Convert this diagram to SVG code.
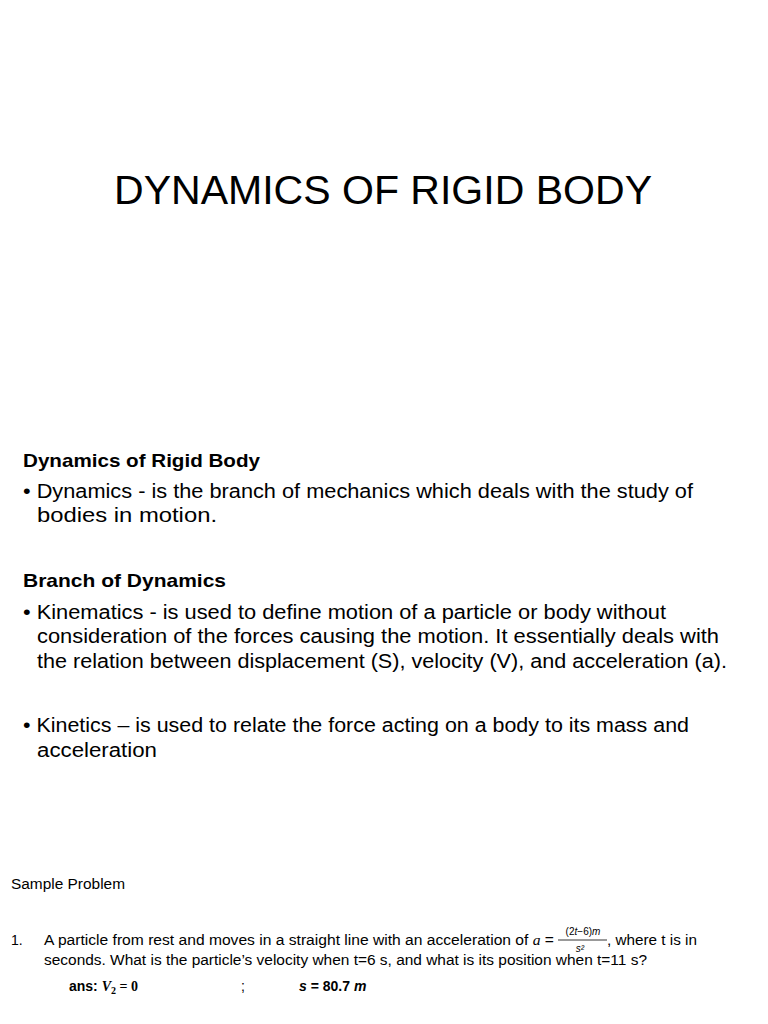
<svg xmlns="http://www.w3.org/2000/svg" width="768" height="1024" viewBox="0 0 768 1024">
<style>
text{font-family:"Liberation Sans",Arial,sans-serif;fill:#000}
.b{font-size:20px}
.h{font-size:19px;font-weight:bold}
.s{font-size:14px}
.m{font-family:"Liberation Serif",serif;font-style:italic}
</style>
<rect width="768" height="1024" fill="#fff"/>
<text x="383" y="204" font-size="41" text-anchor="middle" textLength="538" lengthAdjust="spacingAndGlyphs">DYNAMICS OF RIGID BODY</text>
<text class="h" x="23" y="467" textLength="237" lengthAdjust="spacingAndGlyphs">Dynamics of Rigid Body</text>
<text class="b" x="23" y="498" textLength="670" lengthAdjust="spacingAndGlyphs">• Dynamics - is the branch of mechanics which deals with the study of</text>
<text class="b" x="37" y="522" textLength="180" lengthAdjust="spacingAndGlyphs">bodies in motion.</text>
<text class="h" x="23" y="587" textLength="203" lengthAdjust="spacingAndGlyphs">Branch of Dynamics</text>
<text class="b" x="23" y="619" textLength="643" lengthAdjust="spacingAndGlyphs">• Kinematics - is used to define motion of a particle or body without</text>
<text class="b" x="37" y="643" textLength="682" lengthAdjust="spacingAndGlyphs">consideration of the forces causing the motion. It essentially deals with</text>
<text class="b" x="37" y="668" textLength="690" lengthAdjust="spacingAndGlyphs">the relation between displacement (S), velocity (V), and acceleration (a).</text>
<text class="b" x="23" y="732" textLength="666" lengthAdjust="spacingAndGlyphs">• Kinetics – is used to relate the force acting on a body to its mass and</text>
<text class="b" x="37" y="757" textLength="120" lengthAdjust="spacingAndGlyphs">acceleration</text>
<text class="s" x="11" y="889" textLength="114" lengthAdjust="spacingAndGlyphs">Sample Problem</text>
<text class="s" x="11" y="945">1.</text>
<text class="s" x="44" y="945" textLength="510" lengthAdjust="spacingAndGlyphs">A particle from rest and moves in a straight line with an acceleration of <tspan class="m">a</tspan> =</text>
<text x="583" y="935" font-size="10" text-anchor="middle" font-family="Liberation Serif,serif">(2<tspan font-style="italic">t</tspan>−6)<tspan font-style="italic">m</tspan></text>
<line x1="558" y1="940" x2="607" y2="940" stroke="#000" stroke-width="0.8"/>
<text x="580" y="952" font-size="10" text-anchor="middle" font-family="Liberation Serif,serif" font-style="italic">s²</text>
<text class="s" x="607" y="945" textLength="90" lengthAdjust="spacingAndGlyphs">, where t is in</text>
<text class="s" x="44" y="965" textLength="603" lengthAdjust="spacingAndGlyphs">seconds. What is the particle’s velocity when t=6 s, and what is its position when t=11 s?</text>
<text class="s" x="69" y="991" font-weight="bold">ans: <tspan font-family="Liberation Serif,serif" font-style="italic">V</tspan><tspan font-size="10" dy="3" font-family="Liberation Serif,serif">2</tspan><tspan dy="-3" font-family="Liberation Serif,serif"> = 0</tspan></text>
<text class="s" x="241" y="991">;</text>
<text class="s" x="299" y="991" font-weight="bold" font-family="Liberation Serif,serif" font-style="italic">s <tspan font-style="normal">= 80.7</tspan> m</text>
</svg>
